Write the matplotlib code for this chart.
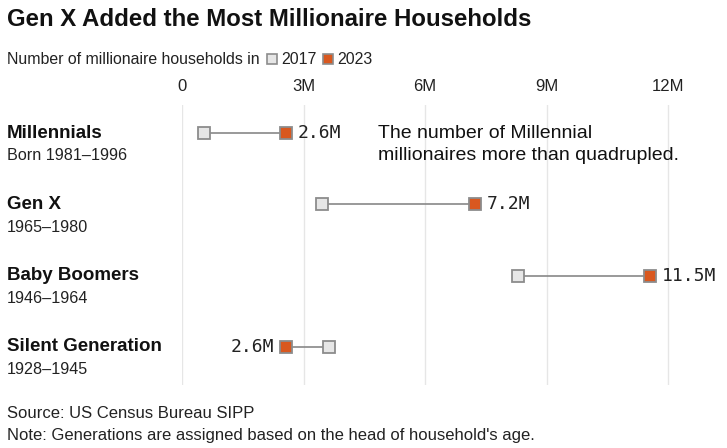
import matplotlib
matplotlib.use("Agg")
import matplotlib.pyplot as plt
from matplotlib.lines import Line2D

generations = ["Millennials", "Gen X", "Baby Boomers", "Silent Generation"]
born = ["Born 1981–1996", "1965–1980", "1946–1964", "1928–1945"]
v2017 = [0.55, 3.45, 8.28, 3.63]
v2023 = [2.56, 7.23, 11.56, 2.56]
labels2023 = ["2.6M", "7.2M", "11.5M", "2.6M"]
xticks = [0, 3, 6, 9, 12]
xticklabels = ["0", "3M", "6M", "9M", "12M"]

W, H = 727, 448
fig = plt.figure(figsize=(W / 100, H / 100), dpi=100)
SANS = ["Liberation Sans", "DejaVu Sans"]
MONO = ["DejaVu Sans Mono", "Liberation Mono"]

def fx(px):
    return px / W

def fy(py):
    return 1 - py / H

# axes geometry (pixels)
x0, x1 = 182, 712
scale = (668.3 - 182) / 12
xmax = (x1 - x0) / scale
top, bot = 105, 385
row0, step = 133, 71.3
ax = fig.add_axes([fx(x0), fy(bot), fx(x1 - x0), (bot - top) / H])
ax.set_xlim(0, xmax)
ax.set_ylim(3 + (bot - 347) / step, -(row0 - top) / step)
for s in ax.spines.values():
    s.set_visible(False)
ax.set_yticks([])
ax.set_xticks(xticks)
ax.set_xticklabels(xticklabels, family=SANS, fontsize=12, color="#222222")
ax.tick_params(axis="x", length=0, top=True, bottom=False, labeltop=True,
               labelbottom=False, pad=8)
ax.grid(axis="x", color="#e6e6e6", linewidth=1)
ax.set_axisbelow(True)

o2023 = "#d9581f"
for i in range(len(generations)):
    ax.plot([v2017[i], v2023[i]], [i, i], color="#888888", lw=1.2, zorder=2)
    ax.plot(v2017[i], i, marker="s", ms=8.5, mfc="#e6e6e6", mec="#8c8c8c",
            mew=1.3, zorder=3)
    ax.plot(v2023[i], i, marker="s", ms=8.5, mfc=o2023, mec="#8c8c8c",
            mew=1.3, zorder=3)
    if v2023[i] >= v2017[i]:
        ax.annotate(labels2023[i], (v2023[i], i), xytext=(8.5, 0),
                    textcoords="offset points", ha="left", va="center",
                    family=MONO, fontsize=13, color="#222222")
    else:
        ax.annotate(labels2023[i], (v2023[i], i), xytext=(-8.5, 0),
                    textcoords="offset points", ha="right", va="center",
                    family=MONO, fontsize=13, color="#222222")
    ypx = row0 + i * step
    fig.text(fx(7), fy(ypx), generations[i], family=SANS, fontsize=13.5,
             fontweight="bold", ha="left", va="center", color="#111111")
    fig.text(fx(7), fy(ypx + 23), born[i], family=SANS, fontsize=11.6,
             ha="left", va="center", color="#222222")

fig.text(fx(378), fy(133), "The number of Millennial", family=SANS,
         fontsize=14, ha="left", va="center", color="#111111")
fig.text(fx(378), fy(156), "millionaires more than quadrupled.", family=SANS,
         fontsize=14, ha="left", va="center", color="#111111")

# title
fig.text(fx(7), fy(20), "Gen X Added the Most Millionaire Households",
         family=SANS, fontsize=17.3, fontweight="bold", ha="left", va="center",
         color="#111111")

# legend line
fig.text(fx(7), fy(59), "Number of millionaire households in", family=SANS,
         fontsize=11.4, ha="left", va="center", color="#222222")
fig.add_artist(Line2D([fx(272)], [fy(59)], marker="s", ms=7, mfc="#e6e6e6",
                      mec="#8c8c8c", mew=1.2, transform=fig.transFigure))
fig.text(fx(281), fy(59), "2017", family=SANS, fontsize=11.4, ha="left",
         va="center", color="#222222")
fig.add_artist(Line2D([fx(328)], [fy(59)], marker="s", ms=7, mfc=o2023,
                      mec="#8c8c8c", mew=1.2, transform=fig.transFigure))
fig.text(fx(337), fy(59), "2023", family=SANS, fontsize=11.4, ha="left",
         va="center", color="#222222")

fig.text(fx(7), fy(413), "Source: US Census Bureau SIPP", family=SANS,
         fontsize=12, ha="left", va="center", color="#222222")
fig.text(fx(7), fy(435),
         "Note: Generations are assigned based on the head of household's age.",
         family=SANS, fontsize=12, ha="left", va="center", color="#222222")

fig.savefig("out.png", dpi=100, facecolor="white")
